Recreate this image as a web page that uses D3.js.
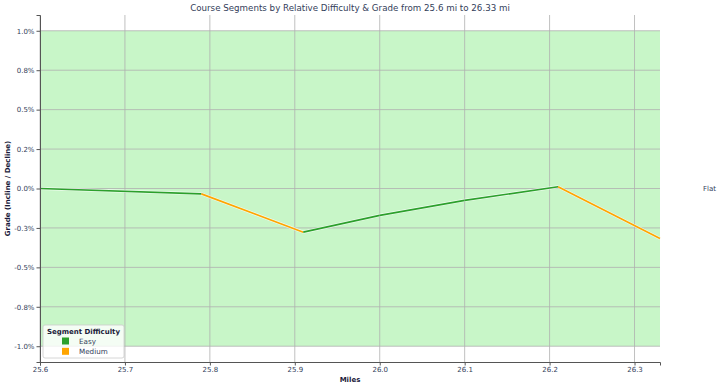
<!DOCTYPE html>
<html>
<head>
<meta charset="utf-8">
<script src="https://cdn.jsdelivr.net/npm/d3@7"></script>
<style>
  body { margin: 0; background: #fff; }
  svg { display: block; font-family: "DejaVu Sans", sans-serif; }
</style>
</head>
<body>
<svg width="720" height="388"></svg>
<script>
// Data
var miles = [25.6, 25.79, 25.91, 26.0, 26.1, 26.21, 26.33];
var grades = [0.0, -0.034, -0.277, -0.17, -0.075, 0.011, -0.317];
var difficulty = ["Easy", "Medium", "Easy", "Easy", "Easy", "Medium"]; // per segment
var yTicks = [1.0, 0.75, 0.5, 0.25, 0, -0.25, -0.5, -0.75, -1.0];
var yTickLabels = ["1.0%", "0.8%", "0.5%", "0.2%", "0.0%", "-0.3%", "-0.5%", "-0.8%", "-1.0%"];
var xTicks = [25.6, 25.7, 25.8, 25.9, 26.0, 26.1, 26.2, 26.3];
var legendNames = ["Easy", "Medium"];
var bandRange = [-1.0, 1.0];

var colors = {Easy: "#2ca02c", Medium: "#ffa500"};
var textColor = "#33405a";

var svg = d3.select("svg"),
    margin = {top: 15, right: 60, bottom: 26, left: 40},
    width = +svg.attr("width") - margin.left - margin.right,
    height = +svg.attr("height") - margin.top - margin.bottom;

var g = svg.append("g")
    .attr("transform", "translate(" + margin.left + "," + margin.top + ")");

var x = d3.scaleLinear().domain([25.6, 26.33]).range([0, width]);
var y = d3.scaleLinear().domain([-1.1, 1.1]).range([height, 0]);

// Flat band
g.append("rect")
    .attr("x", 0)
    .attr("y", y(bandRange[1]))
    .attr("width", width)
    .attr("height", y(bandRange[0]) - y(bandRange[1]))
    .attr("fill", "#c8f6c8");

// Grid
g.selectAll(".vgrid")
    .data(xTicks)
    .enter().append("line")
    .attr("x1", (d) => x(d)).attr("x2", (d) => x(d))
    .attr("y1", 0).attr("y2", height)
    .attr("stroke", "#b0b0b0").attr("stroke-width", 0.8);

g.selectAll(".hgrid")
    .data(yTicks)
    .enter().append("line")
    .attr("x1", 0).attr("x2", width)
    .attr("y1", (d) => y(d)).attr("y2", (d) => y(d))
    .attr("stroke", "#b0b0b0").attr("stroke-width", 0.8);

// Segments (white halo, then colour)
var segs = difficulty.map((d, i) => ({
    kind: d,
    x1: miles[i], y1: grades[i], x2: miles[i + 1], y2: grades[i + 1]
}));

["halo", "line"].forEach((layer) => {
    g.selectAll(".seg-" + layer)
        .data(segs)
        .enter().append("line")
        .attr("x1", (d) => x(d.x1)).attr("y1", (d) => y(d.y1))
        .attr("x2", (d) => x(d.x2)).attr("y2", (d) => y(d.y2))
        .attr("stroke", (d) => layer == "halo" ? "#fff" : colors[d.kind])
        .attr("stroke-opacity", layer == "halo" ? 0.7 : 1)
        .attr("stroke-width", layer == "halo" ? 3 : 1.7)
        .attr("stroke-linecap", "butt");
});

// Axes
var xAxis = g.append("g")
    .attr("transform", "translate(0," + height + ")")
    .call(d3.axisBottom(x).tickValues(xTicks).tickFormat(d3.format(".1f")).tickSize(3.5).tickPadding(2));

var yAxis = g.append("g")
    .call(d3.axisLeft(y).tickValues(yTicks).tickFormat((d, i) => yTickLabels[i]).tickSize(3.5).tickPadding(2));

[xAxis, yAxis].forEach((a) => {
    a.select(".domain").attr("stroke", "#555").attr("stroke-width", 1);
    a.selectAll(".tick line").attr("stroke", "#555");
    a.selectAll(".tick text").attr("fill", textColor).style("font-size", "7px")
        .style("font-family", "DejaVu Sans");
});

// Title and labels
svg.append("text")
    .attr("x", margin.left + width / 2)
    .attr("y", 11)
    .attr("text-anchor", "middle")
    .attr("fill", textColor)
    .style("font-size", "8.7px")
    .text("Course Segments by Relative Difficulty & Grade from 25.6 mi to 26.33 mi");

svg.append("text")
    .attr("x", margin.left + width / 2)
    .attr("y", 382)
    .attr("text-anchor", "middle")
    .attr("fill", "#1a1a3a")
    .style("font-size", "7px")
    .style("font-weight", "bold")
    .text("Miles");

svg.append("text")
    .attr("transform", "translate(10," + (margin.top + y(0)) + ") rotate(-90)")
    .attr("text-anchor", "middle")
    .attr("fill", "#1a1a3a")
    .style("font-size", "7px")
    .style("font-weight", "bold")
    .text("Grade (Incline / Decline)");

svg.append("text")
    .attr("x", 703)
    .attr("y", margin.top + y(0) + 2.5)
    .attr("fill", textColor)
    .style("font-size", "7px")
    .text("Flat");

// Legend
var lg = svg.append("g").attr("transform", "translate(43,325)");
lg.append("rect")
    .attr("width", 81).attr("height", 33)
    .attr("rx", 2)
    .attr("fill", "#fff").attr("fill-opacity", 0.8)
    .attr("stroke", "#ccc").attr("stroke-width", 0.8);
lg.append("text")
    .attr("x", 40.5).attr("y", 8.5)
    .attr("text-anchor", "middle")
    .attr("fill", "#1a1a3a")
    .style("font-size", "7px").style("font-weight", "bold")
    .text("Segment Difficulty");
var items = lg.selectAll(".item")
    .data(legendNames)
    .enter().append("g")
    .attr("transform", (d, i) => "translate(0," + (12.5 + i * 10.3) + ")");
items.append("rect")
    .attr("x", 19).attr("width", 7).attr("height", 7)
    .attr("fill", (d) => colors[d]);
items.append("text")
    .attr("x", 36).attr("y", 6.2)
    .attr("fill", textColor)
    .style("font-size", "7.2px")
    .text((d) => d);
</script>
</body>
</html>
